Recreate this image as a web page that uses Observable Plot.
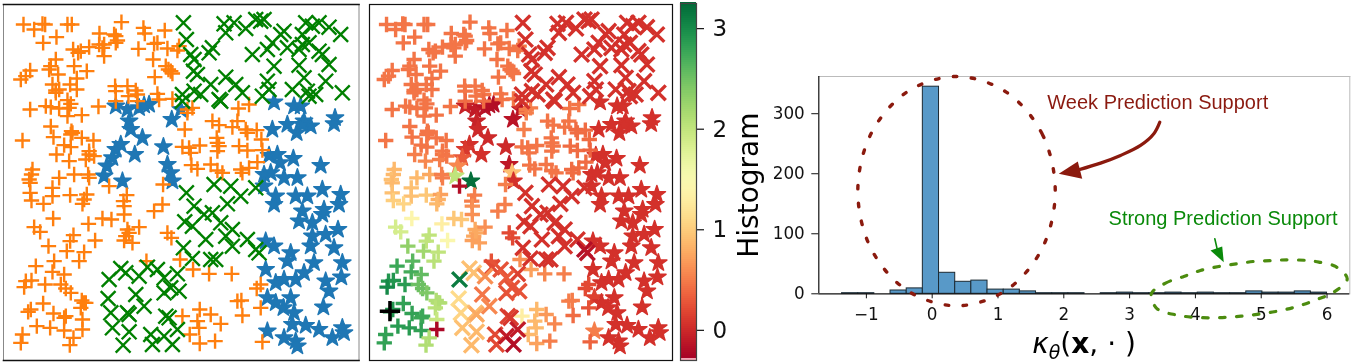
<!DOCTYPE html>
<html><head><meta charset="utf-8">
<script src="https://cdn.jsdelivr.net/npm/d3@7"></script>
<script src="https://cdn.jsdelivr.net/npm/@observablehq/plot@0.6"></script>
<style>
html,body{margin:0;padding:0;background:#fff}
#c{position:relative;width:1353px;height:363px;overflow:hidden;filter:blur(0.35px)}
#c svg{position:absolute;overflow:visible;background:transparent}
</style></head><body><div id="c"></div>
<script>
// Feature-space points: [x, y, kappa]
const plusPoints = [
[68,70,.45],[100,85,.45],[125,68,.45],[133,70,.45],[200,70,.45],[213,70,.45],[127,125,.45],[167,108,.45],[362,63,.45],[296,97,.45],[345,105,.45],[350,118,.45],[428,80,.45],[432,97,.45],[492,88,.45],[340,100,.45],[217,145,.45],[232,155,.45],[240,150,.45],[265,138,.45],[295,130,.45],[310,130,.45],[305,140,.45],[310,165,.45],[345,125,.45],[413,143,.45],[460,128,.45],[470,125,.45],[500,142,.45],[530,148,.45],[535,135,.45],[457,175,.45],[165,175,.45],[150,195,.45],[145,205,.45],[220,195,.45],[172,220,.45],[258,210,.45],[88,208,.45],[75,225,.45],[60,235,.45],[228,232,.45],[208,250,.45],[228,265,.45],[155,250,.45],[165,268,.45],[175,265,.45],[165,275,.45],[495,195,.45],[503,205,.45],[510,210,.45],[515,217,.45],[462,228,.45],[343,255,.45],[345,270,.45],[380,255,.45],[405,268,.45],[383,285,.45],[410,280,.45],[470,278,.45],[475,295,.45],[345,300,.4],[410,300,.4],[515,293,.45],[88,325,.45],[135,315,.45],[150,318,.45],[175,322,.45],[200,297,.45],[210,308,.45],[205,320,.45],[200,345,.45],[243,342,.45],[293,316,.45],[560,325,.5],[575,320,.5],[560,335,.5],[745,310,.45],[713,322,.45],[710,360,.45],[695,378,.45],[635,360,.45],[655,372,.45],[552,385,.5],[735,385,.4],[740,395,.4],[768,387,.4],[782,415,.4],[150,376,.45],[212,390,.45],[215,395,.45],[210,400,.45],[158,408,.45],[243,410,.45],[278,418,.45],[190,432,.45],[210,438,.45],[65,418,.45],[648,410,.45],[650,425,.45],[655,435,.45],[650,450,.45],[545,437,.45],[565,440,.45],[597,433,.45],[570,455,.45],[715,435,.4],[740,448,.4],[785,447,.35],[265,450,.45],[265,460,.45],[167,460,.5],[205,480,.55],[255,475,.5],[280,465,.45],[572,492,.45],[590,503,.45],[630,490,.45],[650,508,.45],[665,515,.45],[720,505,.4],[745,500,.4],[770,483,.4],[725,515,.4],[95,505,.85],[92,520,.85],[85,535,.9],[175,530,.85],[220,520,.75],[262,520,.5],[265,530,.5],
[88,545,.85],[88,575,.9],[155,560,.9],[155,585,.9],[92,598,1],[128,608,1.05],[208,582,.95],[258,580,.7],[250,595,.8],[245,608,.85],[378,582,.5],[368,600,.5],[370,615,.6],[370,640,.6],[325,555,-.2],[487,550,.5],[485,610,.5],[460,630,.5],[157,652,1.4],[263,668,1.3],[305,652,.95],[332,655,.95],[100,678,1.85],[118,692,1.85],[380,685,.75],[385,695,.75],[375,705,.75],[395,725,.7],[415,678,.6],[370,718,.7],[500,695,.2],[512,710,.2],[218,702,2],[208,720,2],[283,718,1.45],[143,735,2.3],[198,750,2.2],[250,753,2],[235,780,2.05],[105,795,2.75],[160,780,2.6],[155,812,2.7],[190,820,2.55],[75,840,2.9],[92,838,2.9],[70,858,3],[133,850,2.85],[180,850,2.5],[195,862,2.5],[210,875,2.4],[243,898,2.1],[250,905,2.1],[255,905,2.1],[240,920,2.05],[127,907,2.8],[90,925,2.9],[82,932,2.9],[158,937,2.8],[195,945,2.75],[190,950,2.75],[245,955,1.95],[245,985,-.25],[190,988,2.8],[148,980,2.85],[108,975,2.85],[218,1010,2.1],[65,1000,2.8],[60,1025,2.8],[207,1032,2.1],[437,780,.25],[538,775,.6],[577,805,.7],[625,818,.55],[693,818,.5],[780,850,.2],[768,862,.2],[710,900,.5],[722,898,.5],[725,943,.4],[780,920,.25],[597,925,.85],[630,940,.65],[545,945,1.3],[590,960,.85],[660,968,.55],[595,980,.85],[567,1000,.85],[597,1027,.7],[643,1020,.5],[785,1022,.35]
];
const timesPoints = [
[548,65,.05],[557,115,.05],[670,68,.05],[700,65,.05],[735,82,.05],[675,95,.05],[765,55,.05],[780,60,.05],[790,55,.05],[915,65,.05],[955,65,.05],[985,78,.05],[1020,100,.05],[850,90,.05],[840,100,.05],[905,100,.05],[935,75,.05],[815,125,.05],[800,145,.05],[860,140,.05],[905,130,.05],[925,125,.05],[955,150,.05],[965,160,.05],[985,190,.05],[895,192,.05],[820,195,.05],[755,160,.05],[635,140,.05],[625,155,.05],[570,160,.05],[580,175,.05],[578,210,.05],[590,220,.05],[630,250,.05],[600,280,.05],[675,228,.05],[705,250,.05],[725,275,.05],[545,280,.05],[545,300,.05],[580,270,.05],[655,295,.05],[660,300,.05],[800,240,.05],[805,265,.05],[785,285,.05],[875,265,.05],[910,230,.05],[920,270,.05],[925,285,.05],[945,280,.05],[975,240,.05],[1025,275,.05],[895,145,.05],
[557,575,.05],[580,615,.05],[680,608,.05],[610,640,.05],[635,635,.05],[552,662,.05],[575,675,.05],[660,665,.05],[695,685,.05],[675,705,.05],[615,715,.05],[695,735,.05],[740,715,.05],[765,745,-.2],[775,755,-.15],[548,740,.05],[575,772,.05],[630,775,.05],[645,775,.05],[640,550,.05],[690,555,.05],[720,585,.05],[765,560,.05],
[440,798,.2],[470,805,.25],[360,802,.9],[375,815,.9],[325,835,3.1],[415,825,.6],[530,818,.15],[490,830,.3],[510,860,.25],[490,875,.25],[535,870,.25],[405,880,.45],[322,892,1.1],[430,915,.55],[330,935,1.05],[380,935,.85],[385,940,.75],[335,980,.9],[385,992,.85],[367,1032,.85],[495,945,.15],[505,950,.1],[530,985,-.1],[450,1000,.2],[455,1030,.2],[490,1005,-.1],[515,1030,-.2]
];
const starPoints = [
[345,315,-.05],[380,325,-.1],[385,360,-.05],[390,385,0],[415,320,-.15],[445,310,-.2],[430,312,-.2],[513,355,-.15],[540,325,-.15],[425,410,0],[360,430,.05],[345,445,.1],[335,470,.3],[318,495,.55],[310,525,2],[402,460,.05],[488,437,0],[500,490,-.12],[510,515,.9],[365,540,3.2],[820,303,.05],[880,315,.05],[900,315,.05],[815,385,.05],[860,370,.05],[888,395,.05],[910,360,.05],[930,375,.05],[905,370,.05],[1003,350,.05],[1000,368,.05],[805,463,.05],[830,460,.05],[838,485,.05],[878,472,.05],[960,493,.05],[790,520,.05],[810,515,.05],[850,530,.05],[890,530,.05],
[515,540,.05],[790,555,.05],[825,585,.05],[820,610,.05],[885,585,.05],[920,585,.05],[965,565,.05],[1020,580,.05],[1015,610,.05],[905,630,.05],[895,660,.05],[935,665,.05],[965,640,.05],[970,625,.05],[935,705,.05],[930,735,.05],[975,700,.05],[1012,685,.05],[795,720,.05],[820,735,.05],[870,755,.05],[860,780,.05],[795,805,.05],[940,785,.05],[1000,740,.05],[1025,785,.05],[825,845,.05],[850,835,.05],[885,835,.05],[910,815,.05],[975,840,.05],[985,870,.05],[1022,828,.05],[800,890,.15],[825,905,.05],[870,890,.05],[848,920,.05],[880,935,.05],[968,918,.05],[875,970,.05],[915,973,.05],[955,985,.05],[800,990,.5],[850,1010,.05],[885,1020,.05],[995,1010,.05],[1025,980,.05],[1030,995,.05],[890,1035,.05]
];
const highlightPoint = [[80,930]];

// Colour bar
const colorDomain = [-0.3, 3.25];
const colorTicks = [0, 1, 2, 3];

// Histogram
const binStarts = [-1.37,-1.124,-0.879,-0.633,-0.387,-0.142,0.104,0.35,0.595,0.841,1.087,1.332,1.578,1.824,2.07,2.315,2.561,2.807,3.053,3.298,3.544,3.79,4.035,4.281,4.527,4.773,5.018,5.264,5.51,5.755];
const binEnds = [-1.124,-0.879,-0.633,-0.387,-0.142,0.104,0.35,0.595,0.841,1.087,1.332,1.578,1.824,2.07,2.315,2.561,2.807,3.053,3.298,3.544,3.79,4.035,4.281,4.527,4.773,5.018,5.264,5.51,5.755,6.0];
const binCounts = [1,1,0,5.5,9,345,35,20,22,7,7,4,1,1,1,0,1,2,1,1,2,1,2,1,1,4,2,2,4,2];
const xTicks = [-1,0,1,2,3,4,5,6];
const yTicks = [0,100,200,300];

// Annotations, in histogram data units
const weakLoop = [[1.87,171],[1.67,266.5],[1.12,336.4],[.37,362],[-.38,336.4],[-.93,266.5],[-1.13,171],[-.93,75.5],[-.38,5.6],[.37,-20],[1.12,5.6],[1.67,75.5]];
const strongLoop = [[3.33,0],[3.546,17.8],[3.824,28.9],[4.077,38.8],[4.356,45.5],[4.635,50],[4.888,53.9],[5.167,55.5],[5.42,56.6],[5.7,55.5],[5.876,52.8],[6.129,45.5],[6.307,25],[6.104,2.8],[5.876,-8.3],[5.597,-19.5],[5.344,-26.7],[5.065,-32.3],[4.787,-36.2],[4.508,-38.9],[4.255,-40],[3.951,-38.9],[3.698,-35],[3.419,-25]];
const weakShaft = [[3.459,286],[3.368,266.7],[3.166,247.2],[2.862,230.5],[2.558,217.7],[2.228,206.7]];
const weakHead = [[1.924,200],[2.213,220.5],[2.28,191.7]];
const strongShaft = [[4.295,91.7],[4.336,72]];
const strongHead = [[4.431,52.7],[4.229,72],[4.407,78.7]];
const weakLabel = "Week Prediction Support";
const strongLabel = "Strong Prediction Support";

const blue="#1f77b4", orange="#ff7f0e", green="#008000";
const dejavu='"DejaVu Sans",sans-serif';
const root=document.getElementById("c");
function place(svg,l,t){svg.style.left=l+"px";svg.style.top=t+"px";root.appendChild(svg);return svg;}
const X=d=>d[0],Y=d=>d[1],K=d=>d[2];
const colorScale={type:"linear",scheme:"RdYlGn",domain:colorDomain};

function scatter(frameWidth,frameMarks,extra,colored,sw){
  const marks=[
    Plot.dot(starPoints,{x:X,y:Y,symbol:"star",r:5.4,fill:colored?K:blue,stroke:colored?K:blue,strokeWidth:1.5,strokeLinejoin:"round"}),
    Plot.dot(plusPoints,{x:X,y:Y,symbol:"plus",r:5,fill:"none",stroke:colored?K:orange,strokeWidth:sw}),
    Plot.dot(timesPoints,{x:X,y:Y,symbol:"times",r:6.8,fill:"none",stroke:colored?K:green,strokeWidth:sw}),
    ...extra,...frameMarks];
  return Plot.plot({width:frameWidth,height:356,margin:0,
    x:{axis:null,domain:[8,1075]},y:{axis:null,domain:[10,1078],reverse:true},
    color:colorScale,style:{background:"transparent"},marks});
}
// Left panel
place(scatter(355.5,[
  Plot.frame({anchor:"left",stroke:"#888",strokeWidth:1}),
  Plot.frame({anchor:"right",stroke:"#888",strokeWidth:1}),
  Plot.frame({anchor:"top",stroke:"#111",strokeWidth:1.6}),
  Plot.frame({anchor:"bottom",stroke:"#111",strokeWidth:1.6})],[],false,2.4),2.5,3.5);
// Middle panel
place(scatter(303,[Plot.frame({stroke:"#111",strokeWidth:1.2})],
  [Plot.dot(highlightPoint,{x:X,y:Y,symbol:"plus",r:6.6,fill:"none",stroke:"#000",strokeWidth:3.5})],true,3.4),369,4);
// Colour bar
const levels=d3.range(colorDomain[0],colorDomain[1],0.02);
place(Plot.plot({width:60,height:357,marginLeft:1,marginRight:43,marginTop:0,marginBottom:0,
  x:{axis:null,domain:[0,1]},y:{domain:colorDomain,axis:null},color:colorScale,style:{background:"transparent"},
  marks:[
    Plot.rect(levels,{x1:0,x2:1,y1:d=>d,y2:d=>d+0.021,fill:d=>d,shapeRendering:"crispEdges"}),
    Plot.rect([colorDomain[0]],{x1:0,x2:1,y1:d=>d,y2:d=>d+0.02,fill:"#f3a5b5"}),
    Plot.axisY({anchor:"right",ticks:colorTicks,tickFormat:d=>d,tickSize:7,tickPadding:9,fontSize:23,fontFamily:dejavu,stroke:"#111",strokeWidth:1.2,fill:"#111",label:null}),
    Plot.frame({stroke:"#444",strokeWidth:1.2})
  ]}),679,3);
// Histogram
const hist=Plot.plot({width:623,height:363,marginLeft:88.3,marginRight:3.7,marginTop:76,marginBottom:69.7,
  x:{domain:[-1.723,6.346],axis:null},y:{domain:[0,362],axis:null},style:{background:"transparent"},
  marks:[
    Plot.frame({anchor:"top",stroke:"#bbb"}),Plot.frame({anchor:"right",stroke:"#bbb"}),
    Plot.rectY(binCounts.map((c,i)=>i),{x1:i=>binStarts[i],x2:i=>binEnds[i],y1:0,y2:i=>binCounts[i],fill:"#5899c8",stroke:"#1c2a33",strokeWidth:1}),
    Plot.axisX({ticks:xTicks,tickSize:5,tickPadding:9,fontSize:16.8,fontFamily:dejavu,stroke:"#111",fill:"#111",label:null,tickFormat:d=>d<0?"\u2212"+(-d):d}),
    Plot.axisY({ticks:yTicks,tickSize:7,tickPadding:7,fontSize:16.8,fontFamily:dejavu,stroke:"#111",fill:"#111",label:null}),
    Plot.ruleY([0],{stroke:"#111",strokeWidth:1.2}),Plot.ruleX([-1.723],{y1:0,y2:362,stroke:"#111",strokeWidth:1.2}),
    Plot.line(weakLoop,{x:X,y:Y,curve:"catmull-rom-closed",stroke:"#8b1a0e",strokeWidth:3.4,strokeDasharray:"3.5 14.5",strokeLinecap:"round"}),
    Plot.line(strongLoop,{x:X,y:Y,curve:"catmull-rom-closed",stroke:"#4c8c0f",strokeWidth:3.2,strokeDasharray:"5.5 11.5",strokeLinecap:"round"}),
    Plot.line(weakShaft,{x:X,y:Y,curve:"catmull-rom",stroke:"#8b1a0e",strokeWidth:3.2}),
    Plot.line(weakHead.concat([weakHead[0]]),{x:X,y:Y,fill:"#8b1a0e",stroke:"none"}),
    Plot.line(strongShaft,{x:X,y:Y,stroke:"#0a8a0a",strokeWidth:1.6}),
    Plot.line(strongHead.concat([strongHead[0]]),{x:X,y:Y,fill:"#0a8a0a",stroke:"none"}),
    Plot.text([weakLabel],{x:1.75,y:319,text:d=>d,textAnchor:"start",fontFamily:'"Liberation Sans",sans-serif',fontSize:20,fill:"#8b1a10"}),
    Plot.text([strongLabel],{x:2.68,y:125,text:d=>d,textAnchor:"start",fontFamily:'"Liberation Sans",sans-serif',fontSize:20,fill:"#0a8a0a"}),
    Plot.text(["Histogram"],{frameAnchor:"left",dx:-70,rotate:-90,text:d=>d,fontFamily:dejavu,fontSize:28,fill:"#000",textAnchor:"middle"}),
    Plot.text(["\u03BA\u03B8(x, \u00B7)"],{x:1.52,y:-83,text:d=>d,textAnchor:"start",fontFamily:dejavu,fontSize:28,fill:"#000",className:"xlab"})
  ]});
place(hist,730,0);
// Math-style x label
const xl=d3.select(hist).select(".xlab text");
xl.text(null);
xl.append("tspan").attr("font-style","italic").text("\u03BA");
xl.append("tspan").attr("font-style","italic").attr("font-size",19).attr("dy",6).text("\u03B8");
xl.append("tspan").attr("dy",-6).text("(");
xl.append("tspan").attr("font-weight","bold").text("x");
xl.append("tspan").text(", \u00B7 )");
</script></body></html>
